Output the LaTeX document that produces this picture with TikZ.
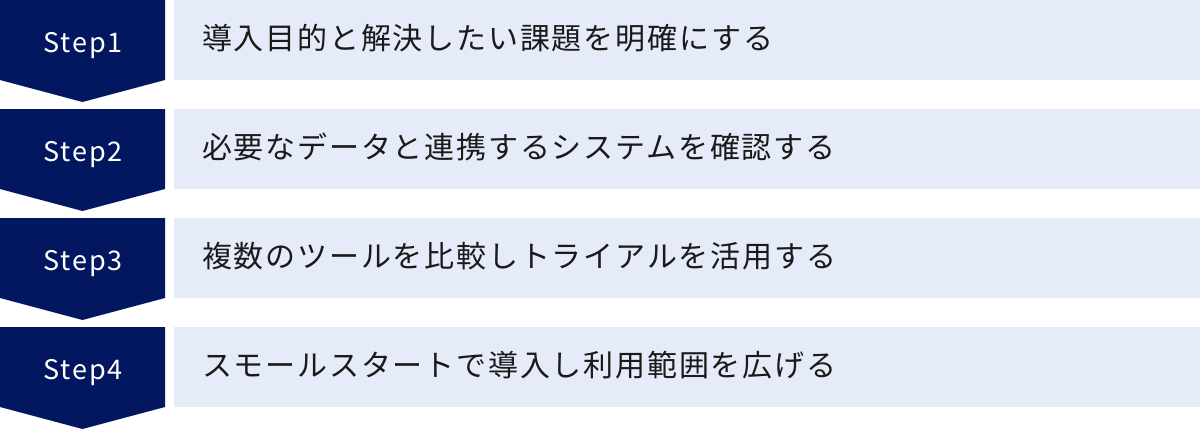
\documentclass[tikz,border=0pt]{standalone}
\usepackage{fontspec}
\newfontfamily\jptext[LetterSpace=6]{Noto Sans CJK JP}
\newfontfamily\steptext[LetterSpace=7]{Noto Sans CJK JP}
\definecolor{navy}{HTML}{021760}
\definecolor{lightbox}{HTML}{E5EBF8}
\definecolor{textgray}{HTML}{1A1A1A}
\tikzset{
  stepshape/.style={fill=navy, draw=none},
  barbox/.style={fill=lightbox, draw=none},
  steplabel/.style={anchor=base, inner sep=0pt, text=white, font=\steptext\fontsize{27}{32}\selectfont},
  barlabel/.style={anchor=base west, inner sep=0pt, text=textgray, font=\jptext\fontsize{30}{36}\selectfont}
}
\begin{document}
\begin{tikzpicture}[x=1pt,y=-1pt]
\useasboundingbox (0,0) rectangle (1200,429);
% row 1
\fill[stepshape] (0,0) -- (165,0) -- (165,80) -- (82.5,102) -- (0,80) -- cycle;
\fill[barbox] (174,0) rectangle (1200,80);
\node[steplabel] (s1) at (83,52) {Step1};
\node[barlabel] (t1) at (202,49) {導入目的と解決したい課題を明確にする};
% row 2
\fill[stepshape] (0,109) -- (165,109) -- (165,189) -- (82.5,211) -- (0,189) -- cycle;
\fill[barbox] (174,109) rectangle (1200,189);
\node[steplabel] (s2) at (83,161) {Step2};
\node[barlabel] (t2) at (202,158) {必要なデータと連携するシステムを確認する};
% row 3
\fill[stepshape] (0,218) -- (165,218) -- (165,298) -- (82.5,320) -- (0,298) -- cycle;
\fill[barbox] (174,218) rectangle (1200,298);
\node[steplabel] (s3) at (83,270) {Step3};
\node[barlabel] (t3) at (202,267) {複数のツールを比較しトライアルを活用する};
% row 4
\fill[stepshape] (0,327) -- (165,327) -- (165,407) -- (82.5,429) -- (0,407) -- cycle;
\fill[barbox] (174,327) rectangle (1200,407);
\node[steplabel] (s4) at (83,379) {Step4};
\node[barlabel] (t4) at (202,376) {スモールスタートで導入し利用範囲を広げる};
\end{tikzpicture}
\end{document}
